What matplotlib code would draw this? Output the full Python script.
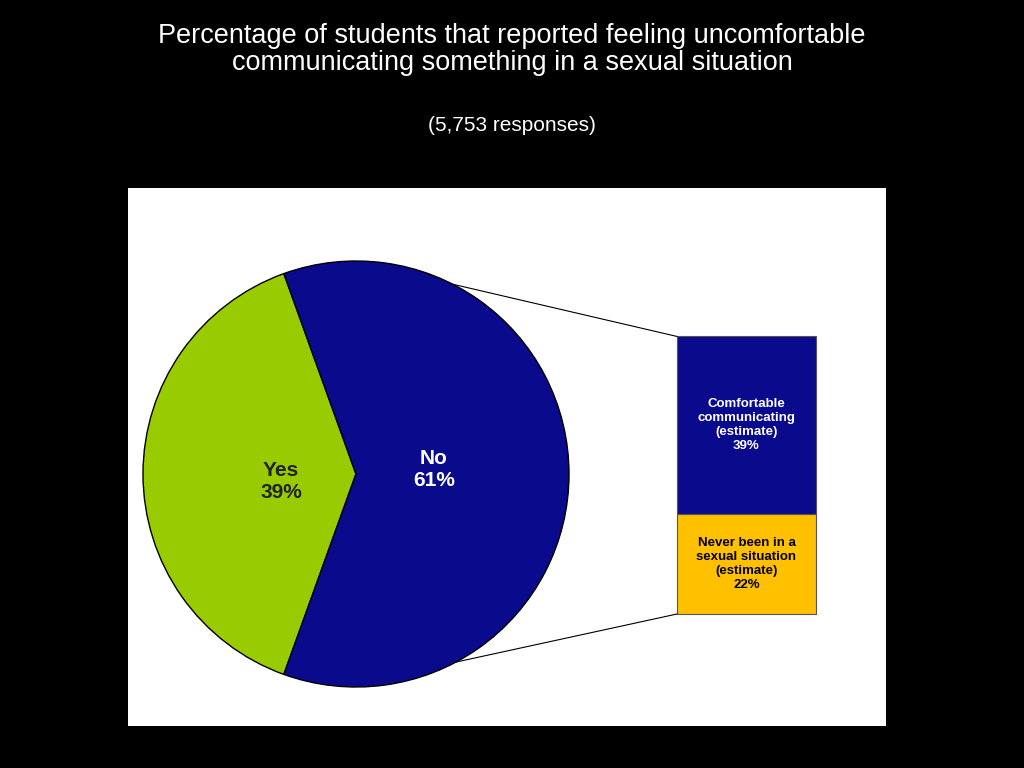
import matplotlib
matplotlib.use("Agg")
import matplotlib.pyplot as plt
import numpy as np

pie_labels = ["Yes\n39%", "No\n61%"]
pie_values = [39, 61]
pie_colors = ["#99cc00", "#0a0a8c"]

bar_labels = ["Never been in a\nsexual situation\n(estimate)\n22%",
              "Comfortable\ncommunicating\n(estimate)\n39%"]
bar_values = [22, 39]
bar_colors = ["#ffc000", "#0a0a8c"]
bar_text_colors = ["black", "white"]

fig = plt.figure(figsize=(10.24, 7.68), dpi=100, facecolor="black")
ax = fig.add_axes([0, 0, 1, 1])
ax.set_xlim(0, 1024)
ax.set_ylim(0, 768)
ax.axis("off")

fig.text(0.5, 0.935, "Percentage of students that reported feeling uncomfortable\ncommunicating something in a sexual situation",
         color="white", ha="center", va="center", fontsize=19.5, family="Liberation Sans", linespacing=1.05)
fig.text(0.5, 0.836, "(5,753 responses)", color="white", ha="center", va="center",
         fontsize=15, family="Liberation Sans")

# white panel
ax.add_patch(plt.Rectangle((128, 42), 758, 538, facecolor="white", edgecolor="none"))

cx, cy, r = 356, 294, 213
start = 180 - pie_values[0] / 100 * 360 / 2
wedges, texts = ax.pie(pie_values, colors=pie_colors, startangle=start, center=(cx, cy), radius=r,
                       labels=pie_labels, labeldistance=0.4,
                       wedgeprops=dict(edgecolor="black", linewidth=1),
                       textprops=dict(fontsize=15, fontweight="bold", ha="center", va="center",
                                      family="Liberation Sans"))
texts[0].set_color("#222222")
texts[1].set_color("white")
texts[0].set_position((cx - 75, cy - 8))
texts[1].set_position((cx + 78, cy + 4))
ax.set_xlim(0, 1024)
ax.set_ylim(0, 768)
ax.set_aspect("auto")

# stacked bar
scale = 4.55
bx, bw = 677, 139
bottom = 154
for v, c, lab, tc in zip(bar_values, bar_colors, bar_labels, bar_text_colors):
    h = v * scale
    ax.bar(bx, h, width=bw, bottom=bottom, align="edge", color=c, edgecolor="#555555", linewidth=0.8)
    ax.text(bx + bw / 2, bottom + h / 2, lab, color=tc, ha="center", va="center",
            fontsize=9.5, fontweight="bold", family="Liberation Sans")
    bottom += h

# connector lines
a1, a2 = np.deg2rad(63), np.deg2rad(-62)
ax.plot([cx + r * np.cos(a1), bx], [cy + r * np.sin(a1), bottom], color="black", lw=0.8)
ax.plot([cx + r * np.cos(a2), bx], [cy + r * np.sin(a2), 154], color="black", lw=0.8)

fig.savefig("out.png", dpi=100, facecolor="black")
